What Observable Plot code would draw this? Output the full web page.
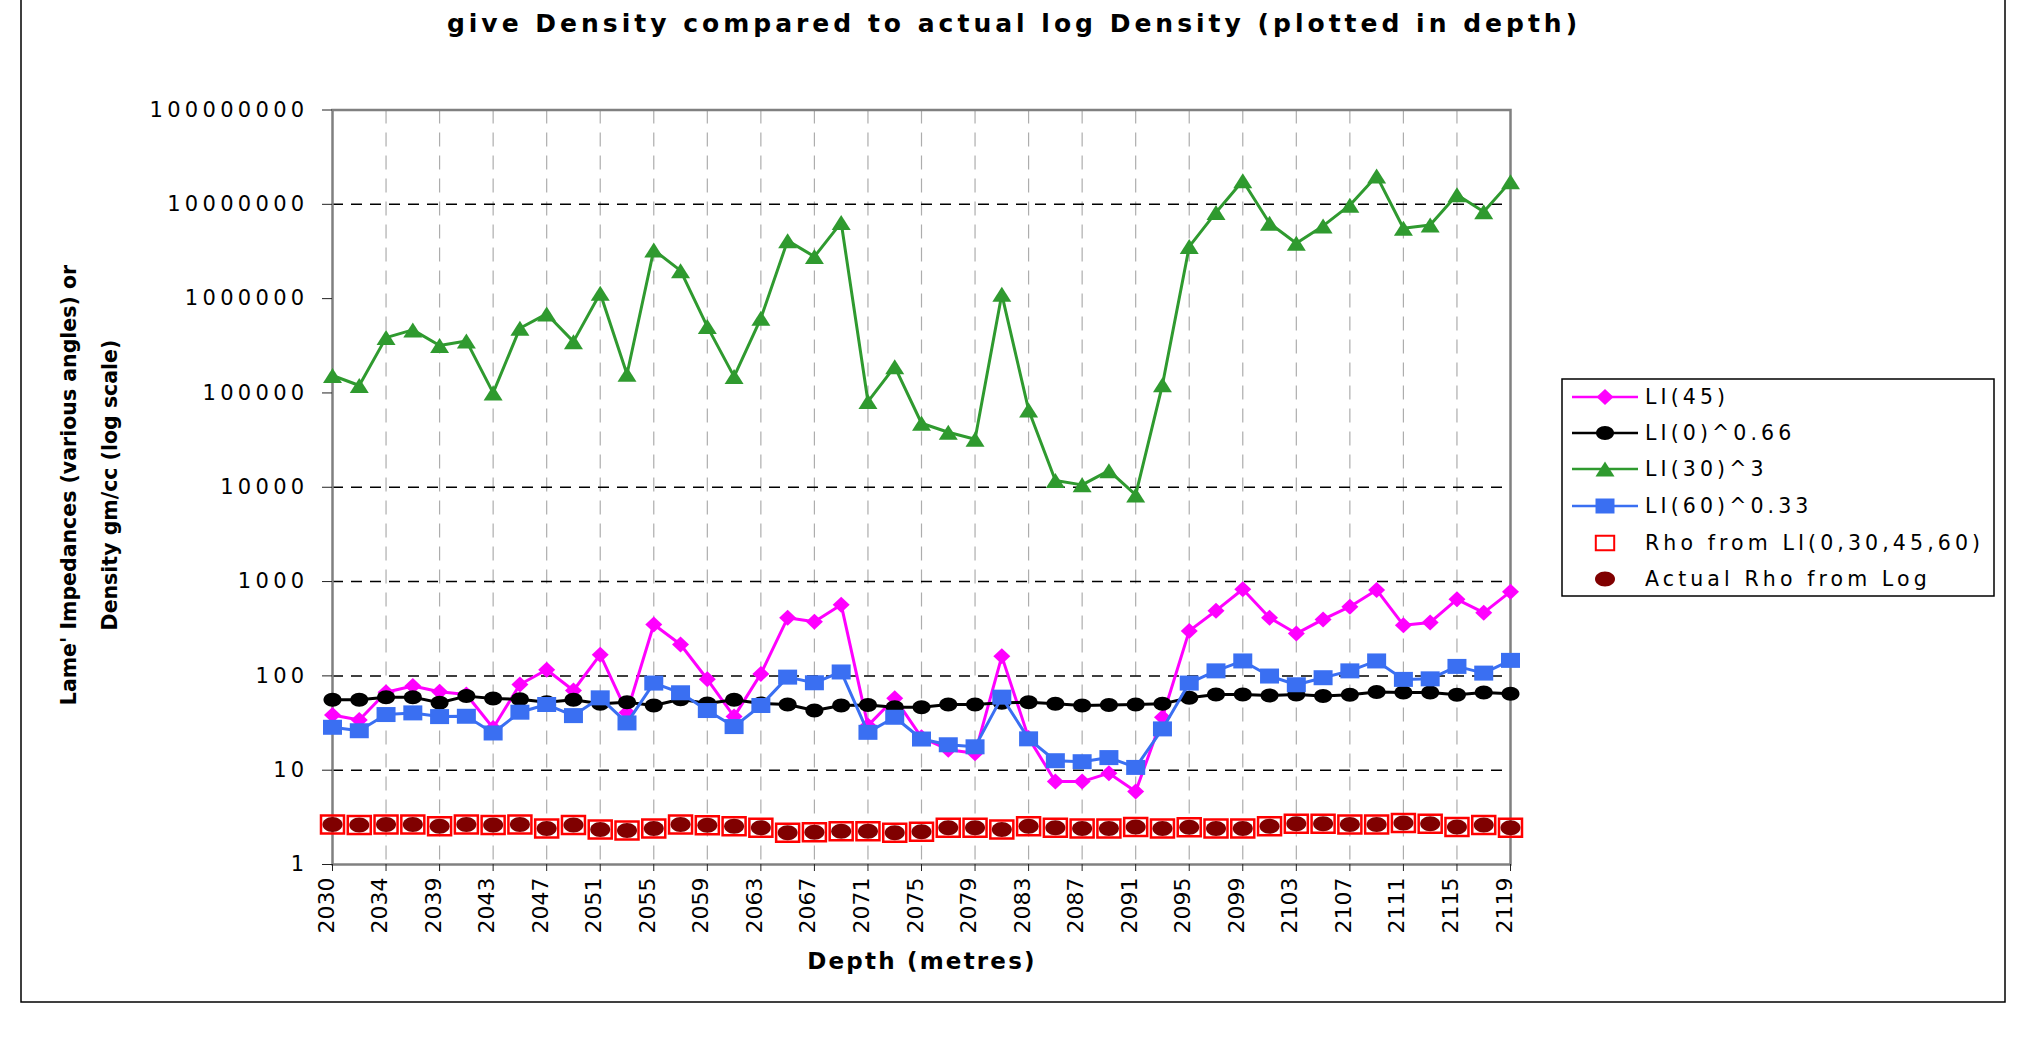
<!DOCTYPE html>
<html>
<head>
<meta charset="utf-8">
<script src="https://cdn.jsdelivr.net/npm/d3@7"></script>
<script src="https://cdn.jsdelivr.net/npm/@observablehq/plot@0.6"></script>
<style>
  html, body { margin: 0; padding: 0; background: #fff; }
  #wrap { position: relative; width: 2041px; height: 1045px; overflow: hidden; background: #fff; }
  #wrap > svg { position: absolute; left: 0; top: 0; }
  g[aria-label="y-axis tick label"] text { letter-spacing: 4.3px; }
  .ovl { position: absolute; left: 0; top: 0; pointer-events: none; }
</style>
</head>
<body>
<div id="wrap"></div>
<script>
// ---------- data ----------
const depths = [2030, 2032, 2034, 2037, 2039, 2041, 2043, 2045, 2047, 2049, 2051, 2053, 2055, 2057, 2059,
  2061, 2063, 2065, 2067, 2069, 2071, 2073, 2075, 2077, 2079, 2081, 2083, 2085, 2087, 2089, 2091, 2093,
  2095, 2097, 2099, 2101, 2103, 2105, 2107, 2109, 2111, 2113, 2115, 2117, 2119];

const li45 = [38.5, 34, 67, 78, 68, 63.5, 28, 81, 116, 70, 168, 41, 351, 215, 92, 37, 105, 413, 375, 569,
  29.7, 58, 22.3, 16.5, 15.1, 161, 22, 7.57, 7.57, 9.3, 5.93, 36.4, 300, 491, 828, 413, 281, 397, 542, 815,
  345, 369, 648, 468, 782];

const li0 = [55.7, 55.7, 59.5, 59.5, 51.8, 61, 57.5, 56.6, 52.6, 55.7, 50.5, 52.6, 48.5, 56.6, 51, 55.7,
  51, 49.7, 42.9, 48.5, 49, 46.5, 46.5, 49.7, 49.7, 51.8, 52.6, 50.5, 48.5, 49, 49.7, 50.5, 58.5, 63.5,
  63.5, 62, 63.5, 61, 63, 67.3, 66.5, 66.5, 63, 66.5, 64.5];

const li30 = [1.53e5, 1.2e5, 3.86e5, 4.66e5, 3.18e5, 3.56e5, 1.0e5, 4.85e5, 6.88e5, 3.5e5, 1.14e6, 1.58e5,
  3.28e6, 1.98e6, 5.05e5, 1.49e5, 6.19e5, 4.12e6, 2.79e6, 6.4e6, 8.1e4, 1.9e5, 4.77e4, 3.83e4, 3.23e4,
  1.11e6, 6.6e4, 1.18e4, 1.06e4, 1.5e4, 8.3e3, 1.22e5, 3.56e6, 8.2e6, 1.78e7, 6.3e6, 3.86e6, 5.9e6, 9.8e6,
  2.0e7, 5.57e6, 6.04e6, 1.26e7, 8.36e6, 1.74e7];

const li60 = [28.5, 26.2, 38.9, 40.5, 37, 37.3, 24.8, 41.2, 49.7, 37.9, 58.5, 31.7, 83.9, 66.2, 42.9, 29,
  48.5, 97, 84.5, 110, 25.2, 36.4, 21.4, 18.6, 17.7, 59.5, 21.5, 12.6, 12.3, 13.6, 10.7, 27.4, 83.9, 113,
  144, 99.6, 80.5, 95.6, 113, 144, 91.8, 93, 126, 107, 146];

const rhoLI = [2.66, 2.63, 2.66, 2.66, 2.55, 2.66, 2.63, 2.66, 2.41, 2.63, 2.35, 2.30, 2.41, 2.66, 2.6,
  2.55, 2.45, 2.17, 2.2, 2.25, 2.25, 2.17, 2.22, 2.45, 2.45, 2.35, 2.55, 2.45, 2.41, 2.41, 2.5, 2.41, 2.48,
  2.41, 2.41, 2.55, 2.7, 2.7, 2.66, 2.66, 2.76, 2.7, 2.5, 2.63, 2.45];

const rhoLog = [2.66, 2.63, 2.66, 2.66, 2.55, 2.66, 2.63, 2.66, 2.41, 2.63, 2.35, 2.30, 2.41, 2.66, 2.6,
  2.55, 2.45, 2.17, 2.2, 2.25, 2.25, 2.17, 2.22, 2.45, 2.45, 2.35, 2.55, 2.45, 2.41, 2.41, 2.5, 2.41, 2.48,
  2.41, 2.41, 2.55, 2.7, 2.7, 2.66, 2.66, 2.76, 2.7, 2.5, 2.63, 2.45];

const labelDepths = [2030, 2034, 2039, 2043, 2047, 2051, 2055, 2059, 2063, 2067, 2071, 2075, 2079, 2083,
  2087, 2091, 2095, 2099, 2103, 2107, 2111, 2115, 2119];
const yTicks = [1, 10, 100, 1000, 10000, 100000, 1000000, 10000000, 100000000];
const yGrid = [10, 100, 1000, 10000, 10000000];

const seriesNames = ["LI(45)", "LI(0)^0.66", "LI(30)^3", "LI(60)^0.33", "Rho from LI(0,30,45,60)", "Actual Rho from Log"];

// ---------- symbols ----------
function ellipseSym(w, h) {
  return {draw(ctx) {
    const a = w / 2, b = h / 2, k = 0.5523;
    ctx.moveTo(a, 0);
    ctx.bezierCurveTo(a, b * k, a * k, b, 0, b);
    ctx.bezierCurveTo(-a * k, b, -a, b * k, -a, 0);
    ctx.bezierCurveTo(-a, -b * k, -a * k, -b, 0, -b);
    ctx.bezierCurveTo(a * k, -b, a, -b * k, a, 0);
    ctx.closePath();
  }};
}
function rectSym(w, h) {
  return {draw(ctx) { ctx.moveTo(-w/2, -h/2); ctx.lineTo(w/2, -h/2); ctx.lineTo(w/2, h/2); ctx.lineTo(-w/2, h/2); ctx.closePath(); }};
}
function diamondSym(w, h) {
  return {draw(ctx) { ctx.moveTo(0, -h/2); ctx.lineTo(w/2, 0); ctx.lineTo(0, h/2); ctx.lineTo(-w/2, 0); ctx.closePath(); }};
}
function triSym(w, h) {
  return {draw(ctx) { ctx.moveTo(0, -h/2); ctx.lineTo(w/2, h/2); ctx.lineTo(-w/2, h/2); ctx.closePath(); }};
}

const styles = [
  {key: "li45", stroke: "#ff00ff", sym: diamondSym(17, 16), fill: "#ff00ff", line: true},
  {key: "li0", stroke: "#000000", sym: ellipseSym(18, 14), fill: "#000000", line: true},
  {key: "li30", stroke: "#2f9a2f", sym: triSym(19, 15), fill: "#2f9a2f", line: true},
  {key: "li60", stroke: "#3a6ff2", sym: rectSym(19, 15), fill: "#3a6ff2", line: true},
  {key: "rhoLI", stroke: "#ff0000", sym: rectSym(23, 18), fill: "none", line: false, hollow: true},
  {key: "rhoLog", stroke: "none", sym: ellipseSym(20, 15), fill: "#800000", line: false}
];

const table = depths.map((d, i) => ({depth: d, li45: li45[i], li0: li0[i], li30: li30[i], li60: li60[i], rhoLI: rhoLI[i], rhoLog: rhoLog[i]}));

// ---------- layout ----------
const W = 2041, H = 1045;
const X0 = 332, X1 = 1510, Y0 = 109.5, Y1 = 864;

const seriesMarks = [];
for (const s of styles) {
  if (s.line) seriesMarks.push(Plot.line(table, {x: "depth", y: s.key, stroke: s.stroke, strokeWidth: 3}));
  if (s.hollow) seriesMarks.push(Plot.dot(table, {x: "depth", y: s.key, symbol: s.sym, r: 5, fill: "none", stroke: s.stroke, strokeWidth: 2.5}));
  else seriesMarks.push(Plot.dot(table, {x: "depth", y: s.key, symbol: s.sym, r: 5, fill: s.fill, stroke: "none"}));
}

const chart = Plot.plot({
  width: W, height: H,
  marginLeft: X0, marginRight: W - X1, marginTop: Y0, marginBottom: H - Y1,
  style: {fontFamily: "DejaVu Sans", background: "transparent", color: "#000", overflow: "visible"},
  x: {type: "point", domain: depths, padding: 0},
  y: {type: "log", domain: [1, 1e8]},
  marks: [
    Plot.ruleX(labelDepths.slice(1, -1), {stroke: "#adadad", strokeWidth: 1.2, strokeDasharray: "14,9"}),
    Plot.ruleY(yGrid, {stroke: "#000", strokeWidth: 1.5, strokeDasharray: "11,8"}),
    Plot.frame({stroke: "#808080", strokeWidth: 2.5}),
    Plot.axisY({ticks: yTicks, tickFormat: d => String(d), tickSize: 10, tickPadding: 14, fontSize: 21, stroke: "#222", label: null}),
    Plot.axisX({ticks: labelDepths, tickSize: 7, tickFormat: () => "", stroke: "#222", label: null}),
    Plot.axisX({ticks: labelDepths, tickFormat: d => String(d), tickSize: 0, tickPadding: 13, tickRotate: -90, fontSize: 22, label: null, dx: -6}),
    ...seriesMarks
  ]
});
const wrap = document.getElementById("wrap");
wrap.appendChild(chart);

// ---------- overlay: border, title, axis titles, legend ----------
const ov = d3.select(wrap).append("svg").attr("class", "ovl").attr("width", W).attr("height", H)
  .style("font-family", "DejaVu Sans");

ov.append("rect").attr("x", 21).attr("y", -20).attr("width", 2005 - 21).attr("height", 1002 + 20)
  .attr("fill", "none").attr("stroke", "#000").attr("stroke-width", 1.5);

ov.append("text").attr("x", 1014).attr("y", 32).attr("text-anchor", "middle")
  .attr("font-weight", "bold").attr("font-size", 25).style("letter-spacing", "4px")
  .text("give Density compared to actual log Density (plotted in depth)");

ov.append("text").attr("x", 922).attr("y", 969).attr("text-anchor", "middle")
  .attr("font-weight", "bold").attr("font-size", 23).style("letter-spacing", "2.2px")
  .text("Depth (metres)");

const yTitle = ["Lame' Impedances (various angles) or", "Density gm/cc (log scale)"];
[69, 110].forEach((cx, i) => {
  ov.append("text").attr("transform", `translate(${cx},485) rotate(-90)`).attr("text-anchor", "middle")
    .attr("dominant-baseline", "central").attr("font-weight", "bold").attr("font-size", 20.5)
    .text(yTitle[i]);
});

// legend
const LX = 1562, LY = 379, LW = 432, LH = 217;
ov.append("rect").attr("x", LX).attr("y", LY).attr("width", LW).attr("height", LH)
  .attr("fill", "#fff").attr("stroke", "#000").attr("stroke-width", 1.5);
const rowY = [397, 433, 469, 506, 543, 579];
styles.forEach((s, i) => {
  const y = rowY[i];
  if (s.line) ov.append("line").attr("x1", 1572).attr("x2", 1638).attr("y1", y).attr("y2", y)
    .attr("stroke", s.stroke).attr("stroke-width", 2.5);
  const p = d3.path(); s.sym.draw(p);
  ov.append("path").attr("d", p.toString())
    .attr("fill", s.hollow ? "none" : s.fill).attr("stroke", s.hollow ? s.stroke : "none")
    .attr("stroke-width", s.hollow ? 2.5 : 0)
    .attr("transform", s.hollow ? `translate(1605,${y}) scale(0.8)` : `translate(1605,${y})`);
  ov.append("text").attr("x", 1645).attr("y", y).attr("dominant-baseline", "central")
    .attr("font-size", 20.5).style("letter-spacing", "4.1px").text(seriesNames[i]);
});
</script>
</body>
</html>
